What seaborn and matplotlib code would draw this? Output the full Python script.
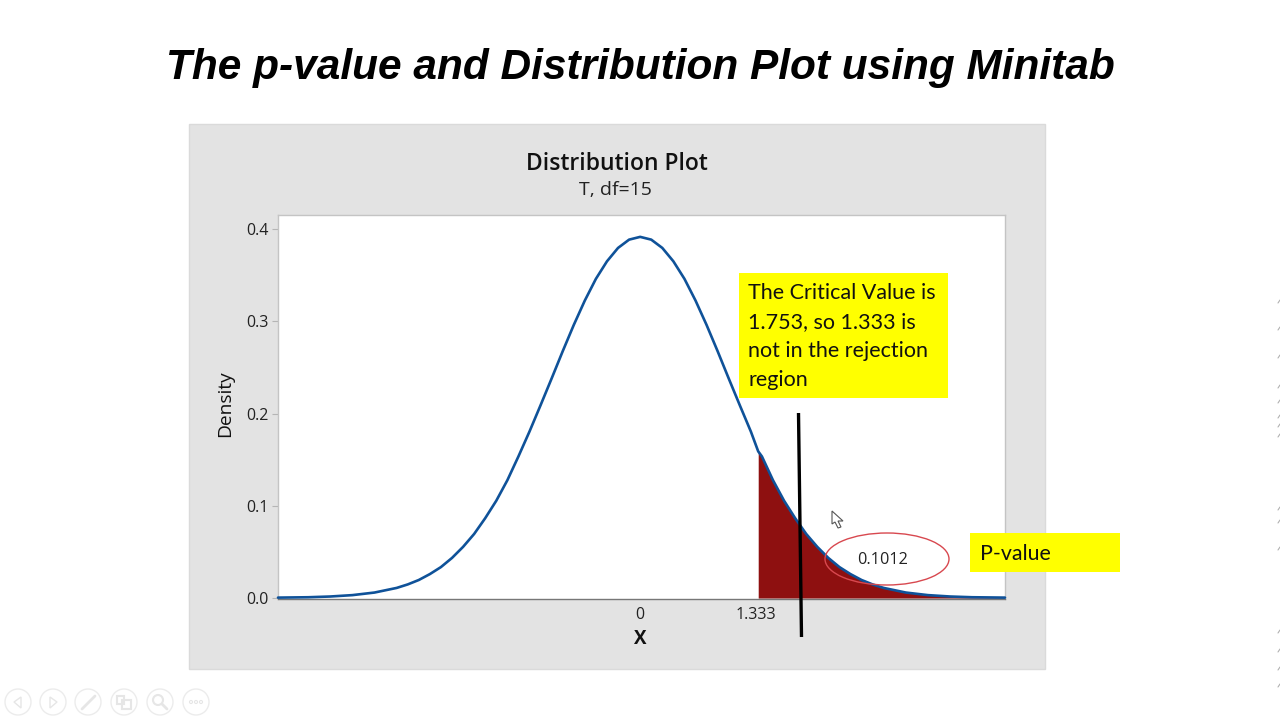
import matplotlib
matplotlib.use("Agg")
import matplotlib.pyplot as plt
from matplotlib.patches import Rectangle, Ellipse, Polygon, Circle
from matplotlib.transforms import ScaledTranslation
import pandas as pd
import seaborn as sns

# values
x_values = [-4.09, -3.75, -3.5, -3.25, -3.0, -2.75, -2.625, -2.5, -2.375, -2.25, -2.125, -2.0,
            -1.875, -1.75, -1.625, -1.5, -1.375, -1.25, -1.125, -1.0, -0.875, -0.75, -0.625,
            -0.5, -0.375, -0.25, -0.125, 0.0, 0.125, 0.25, 0.375, 0.5, 0.625, 0.75, 0.875, 1.0,
            1.125, 1.25, 1.333, 1.375, 1.5, 1.625, 1.75, 1.875, 2.0, 2.125, 2.25, 2.375, 2.5,
            2.625, 2.75, 3.0, 3.25, 3.5, 3.75, 4.12]
density = [0.0005, 0.0009, 0.0017, 0.0032, 0.0060, 0.0110, 0.0148, 0.0196, 0.0260, 0.0336, 0.0435,
           0.0555, 0.0695, 0.0866, 0.1055, 0.1277, 0.1535, 0.1805, 0.2090, 0.2380, 0.2675, 0.2960,
           0.3225, 0.3460, 0.3650, 0.3795, 0.3885, 0.3915, 0.3885, 0.3795, 0.3650, 0.3460, 0.3225,
           0.2960, 0.2675, 0.2380, 0.2090, 0.1805, 0.1590, 0.1535, 0.1277, 0.1055, 0.0866, 0.0695,
           0.0555, 0.0435, 0.0336, 0.0260, 0.0196, 0.0148, 0.0110, 0.0060, 0.0032, 0.0017, 0.0009,
           0.0005]
critical_x = 1.333
p_value = "0.1012"
y_ticks = [0.0, 0.1, 0.2, 0.3, 0.4]
x_ticks = [0, 1.333]
x_tick_labels = ["0", "1.333"]
slide_title = "The p-value and Distribution Plot using Minitab"
plot_title = "Distribution Plot"
plot_subtitle = "T, df=15"
callout_lines = ["The Critical Value is", "1.753, so 1.333 is", "not in the rejection", "region"]
callout_label = "P-value"

sns.set_theme(style="white")
UI = ["Open Sans", "DejaVu Sans"]
CAL = ["Lato", "DejaVu Sans"]
W, H = 1280, 720
fig = plt.figure(figsize=(12.8, 7.2), dpi=100, facecolor="white")

def px_axes(z):
    a = fig.add_axes([0, 0, 1, 1], zorder=z)
    a.set_xlim(0, W); a.set_ylim(H, 0); a.axis("off")
    a.patch.set_alpha(0)
    return a

bg = px_axes(0)
bg.add_patch(Rectangle((189, 124), 856, 545, fc="#e3e3e3", ec="#dadada", lw=1))
bg.text(640, 68, slide_title, ha="center", va="center", fontsize=30.5, fontweight="bold",
        fontstyle="italic", family="Liberation Sans", color="black")
bg.text(616.5, 164, plot_title, ha="center", va="center", fontsize=16.5, family=UI,
        fontweight="semibold", color="#111111")
bg.text(615.5, 190, plot_subtitle, ha="center", va="center", fontsize=14, family=UI, color="#222222")
# slide-show toolbar
TB = "#e6e6e6"
for cx in [18, 53, 88, 124, 160, 196]:
    bg.add_patch(Circle((cx, 702), 13, fc="none", ec="#ececec", lw=1))
bg.add_patch(Polygon([(21, 697), (14, 702), (21, 708)], closed=True, fc="none", ec=TB, lw=1))
bg.add_patch(Polygon([(50, 697), (57, 702), (50, 708)], closed=True, fc="none", ec=TB, lw=1))
bg.plot([82, 95], [709, 696], color=TB, lw=2)
bg.add_patch(Rectangle((117, 696), 7, 8, fc="none", ec=TB, lw=1.5))
bg.add_patch(Rectangle((122, 700), 9, 9, fc="none", ec=TB, lw=1.5))
bg.add_patch(Circle((158, 700), 5, fc="none", ec=TB, lw=1.5))
bg.plot([162, 167], [704, 709], color=TB, lw=2)
for cx in [191, 196, 201]:
    bg.add_patch(Circle((cx, 702), 1.5, fc="none", ec=TB, lw=0.8))
# cut-off marks at the right edge of the screen
for sy in [303, 330, 358, 388, 403, 418, 427, 437, 510, 523, 550, 633, 652, 670, 687]:
    bg.plot([1278, 1280], [sy, sy - 3], color="#b0b0b0", lw=0.8)

# main plot: pixels 278..1005 by 215..599
ax = fig.add_axes([278 / W, 1 - 599 / H, (1005 - 278) / W, (599 - 215) / H], zorder=1)
df = pd.DataFrame({"X": x_values, "Density": density})
tail = df[df["X"] >= critical_x]
ax.fill_between(tail["X"], 0, tail["Density"], color="#8e1010", lw=0, zorder=2)
sns.lineplot(data=df, x="X", y="Density", ax=ax, color="#0f5299", lw=1.9, zorder=3,
             errorbar=None, sort=False, clip_on=False)
ax.set_xlim(-4.09, 4.12)
ax.set_ylim(-0.001, 0.4152)
ax.set_yticks(y_ticks)
ax.set_yticklabels([f"{v:.1f}" for v in y_ticks], family=UI, fontsize=11.5, color="#222222")
ax.set_xticks(x_ticks)
ax.set_xticklabels(x_tick_labels, family=UI, fontsize=11.5, color="#222222")
ax.tick_params(axis="y", length=4, width=0.8, color="#b5b5b5", pad=3, left=True)
ax.tick_params(axis="x", length=0, pad=6)
lab = ax.get_xticklabels()[1]
lab.set_transform(lab.get_transform() + ScaledTranslation(-2.5 / 100, 0, fig.dpi_scale_trans))
ax.set_xlabel("")
ax.set_ylabel("")
for s in ["top", "left", "right"]:
    ax.spines[s].set_color("#c4c4c4"); ax.spines[s].set_linewidth(1.0)
ax.spines["bottom"].set_color("#777777"); ax.spines["bottom"].set_linewidth(1)

fg = px_axes(2)
fg.text(640, 639, "X", ha="center", va="center", fontsize=13.5, family=UI, fontweight="bold", color="#111111")
fg.text(225, 403.5, "Density", rotation=90, ha="center", va="center", fontsize=13.8, family=UI, color="#111111")
fg.add_patch(Rectangle((739, 273), 209, 125, fc="#ffff00", ec="none"))
for i, line in enumerate(callout_lines):
    fg.text(748, 293 + i * 28.9, line, ha="left", va="center", fontsize=15.5, family=CAL, color="#111111")
fg.add_patch(Rectangle((970, 533), 150, 39, fc="#ffff00", ec="none"))
fg.text(980, 554.5, callout_label, ha="left", va="center", fontsize=15.4, family=CAL, color="#111111")
fg.plot([798.5, 801.5], [413, 637], color="black", lw=2.4, solid_capstyle="butt")
fg.add_patch(Ellipse((887, 559), 124, 52, fc="none", ec="#d8484f", lw=1))
fg.text(882.5, 560, p_value, ha="center", va="center", fontsize=11.7, family=UI, color="#222222")
fg.add_patch(Polygon([(832, 511), (832, 524), (835, 522), (838, 528), (841, 527), (838, 521), (843, 521)],
                     closed=True, fc="white", ec="#555555", lw=0.8))

fig.savefig("out.png", dpi=100)
